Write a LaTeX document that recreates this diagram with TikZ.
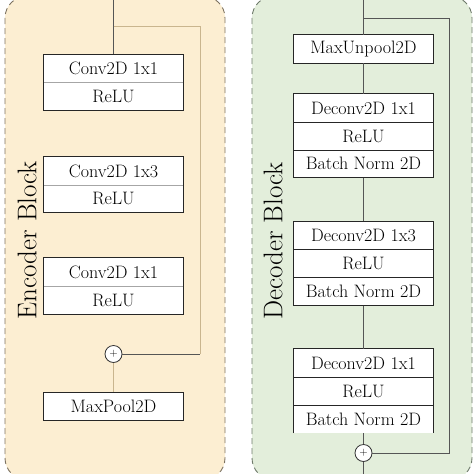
\documentclass[tikz,border=0pt]{standalone}
\usetikzlibrary{positioning,calc}
\definecolor{encfill}{HTML}{FCEED2}
\definecolor{decfill}{HTML}{E3EEDB}
\definecolor{encedge}{HTML}{7D7260}
\definecolor{decedge}{HTML}{6E7A6A}
\definecolor{skipenc}{HTML}{C9B58E}
\definecolor{lineg}{HTML}{555555}
\begin{document}
\begin{tikzpicture}[x=1pt,y=-1pt,
  panel/.style={draw, dashed, line width=0.9pt, rounded corners=22pt, dash pattern=on 6pt off 4pt},
  row/.style={fill=white, minimum width=139pt, minimum height=28pt, inner sep=0pt, font=\fontsize{18}{20}\selectfont, anchor=center},
  divider/.style={draw=gray!70, line width=0.6pt},
  outline/.style={draw=black!85, line width=1.3pt},
  conn/.style={draw=lineg, line width=0.8pt},
  plus/.style={circle, draw=black!80, fill=white, line width=0.8pt, minimum size=17pt, inner sep=0pt, font=\fontsize{11}{11}\selectfont},
  blocklabel/.style={rotate=90, font=\fontsize{27}{30}\selectfont}
]
\clip (0,0) rectangle (474,474);
\useasboundingbox (0,0) rectangle (474,474);
% panels
\path[panel, fill=encfill, draw=encedge] (5,-4) rectangle (225,480);
\path[panel, fill=decfill, draw=decedge] (252,-4) rectangle (472,480);
\node[blocklabel] (enclabel) at (27,240) {Encoder Block};
\node[blocklabel] (declabel) at (273,241) {Decoder Block};

% ---------- Encoder ----------
\coordinate (etop) at (113.5,0);
\coordinate (eskipA) at (113.5,26);
\coordinate (eskipB) at (200,26);
\coordinate (eskipC) at (200,354);
\node[row] (e1a) at (113.5,68.5) {Conv2D 1x1};
\node[row] (e1b) at (113.5,96.5) {ReLU};
\node[row] (e2a) at (113.5,171) {Conv2D 1x3};
\node[row] (e2b) at (113.5,198.5) {ReLU};
\node[row] (e3a) at (113.5,272) {Conv2D 1x1};
\node[row] (e3b) at (113.5,300) {ReLU};
\node[row] (pool) at (113.5,406.5) {MaxPool2D};
\draw[divider] (e1a.south west) -- (e1a.south east);
\draw[divider] (e2a.south west) -- (e2a.south east);
\draw[divider] (e3a.south west) -- (e3a.south east);
\draw[outline] (e1a.north west) rectangle (e1b.south east);
\draw[outline] (e2a.north west) rectangle (e2b.south east);
\draw[outline] (e3a.north west) rectangle (e3b.south east);
\draw[outline] (pool.north west) rectangle (pool.south east);
\node[plus] (eplus) at (113.5,354) {+};
\draw[conn] (etop) -- (e1a.north);
\draw[draw=skipenc, line width=1pt] (eskipA) -- (eskipB) -- (eskipC);
\draw[conn] (eskipC) -- (eplus.east);
\draw[draw=skipenc, line width=1pt] (eplus.south) -- (pool.north);

% ---------- Decoder ----------
\coordinate (dtop) at (363.5,0);
\coordinate (dskipA) at (363.5,18);
\coordinate (dskipB) at (449,18);
\coordinate (dskipC) at (449,453);
\coordinate (dbot) at (363.5,474);
\node[row] (unpool) at (363.5,49) {MaxUnpool2D};
\node[row] (d1a) at (363.5,108) {Deconv2D 1x1};
\node[row] (d1b) at (363.5,136) {ReLU};
\node[row] (d1c) at (363.5,163.5) {Batch Norm 2D};
\node[row] (d2a) at (363.5,235.5) {Deconv2D 1x3};
\node[row] (d2b) at (363.5,263.5) {ReLU};
\node[row] (d2c) at (363.5,291.5) {Batch Norm 2D};
\node[row] (d3a) at (363.5,363) {Deconv2D 1x1};
\node[row] (d3b) at (363.5,391) {ReLU};
\node[row] (d3c) at (363.5,419) {Batch Norm 2D};
\foreach \n in {d1a,d1b,d2a,d2b,d3a,d3b}
  \draw[outline, line width=1pt] (\n.south west) -- (\n.south east);
\draw[outline] (unpool.north west) rectangle (unpool.south east);
\draw[outline] (d1a.north west) rectangle (d1c.south east);
\draw[outline] (d2a.north west) rectangle (d2c.south east);
\draw[outline] (d3c.south west) -- (d3a.north west) -- (d3a.north east) -- (d3c.south east);
\node[plus] (dplus) at (363.5,453) {+};
\draw[conn] (dtop) -- (unpool.north);
\draw[conn] (unpool.south) -- (d1a.north);
\draw[conn] (d1c.south) -- (d2a.north);
\draw[conn] (d2c.south) -- (d3a.north);
\draw[conn] (d3c.south) -- (dplus.north);
\draw[conn] (dskipA) -- (dskipB) -- (dskipC) -- (dplus.east);
\draw[conn] (dplus.south) -- (dbot);
\end{tikzpicture}
\end{document}
